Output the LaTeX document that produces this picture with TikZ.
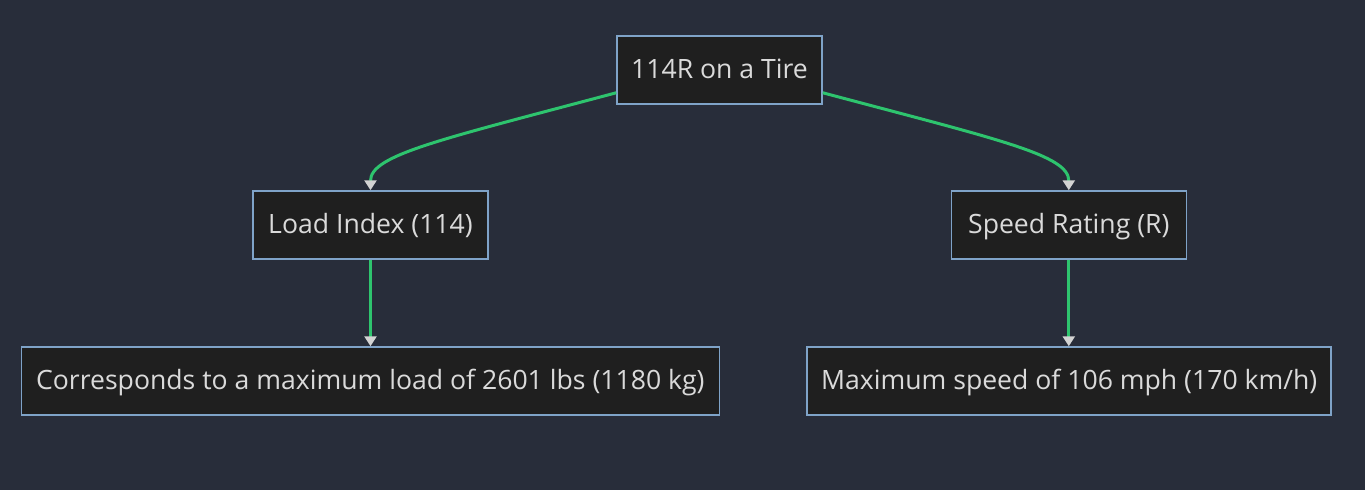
\documentclass[tikz,border=0pt]{standalone}
\usepackage{fontspec}
\setmainfont{Open Sans}
\usetikzlibrary{arrows.meta}
\definecolor{bgc}{HTML}{282D3A}
\definecolor{boxfill}{HTML}{1F1F1F}
\definecolor{boxline}{HTML}{7FA3C8}
\definecolor{txt}{HTML}{DADADA}
\definecolor{edgec}{HTML}{2EC46E}
\definecolor{tipc}{HTML}{D3D3D3}
\tikzset{
  box/.style={draw=boxline, fill=boxfill, line width=1.5pt, inner sep=0pt,
    minimum height=68pt, text=txt, text height=20pt, text depth=3pt,
    font=\fontsize{26.6}{30}\selectfont},
  link/.style={draw=edgec, line width=3pt,
    -{Triangle[length=10pt,width=12pt,color=tipc,fill=tipc]}}
}
\begin{document}
\begin{tikzpicture}[x=1pt,y=-1pt]
\useasboundingbox[fill=bgc] (0,0) rectangle (1365,490);
\node[box, minimum width=205pt] (top) at (719.5,70) {114R on a Tire};
\node[box, minimum width=235pt] (load) at (370.5,225) {Load Index (114)};
\node[box, minimum width=235pt] (speed) at (1068.8,225) {Speed Rating (R)};
\node[box, minimum width=698pt] (corr) at (370.3,381) {Corresponds to a maximum load of 2601 lbs (1180 kg)};
\node[box, minimum width=524pt] (maxs) at (1069.2,381) {Maximum speed of 106 mph (170 km/h)};
\coordinate (tl) at ([yshift=12pt]top.south west);
\coordinate (tr) at ([yshift=12pt]top.south east);
\draw[link] (tl) .. controls (439,140) and (370.5,155) .. (load.north);
\draw[link] (tr) .. controls (1000,140) and (1068.8,155) .. (speed.north);
\draw[link] (load.south) -- (corr.north -| load.south);
\draw[link] (speed.south) -- (maxs.north -| speed.south);
\end{tikzpicture}
\end{document}
